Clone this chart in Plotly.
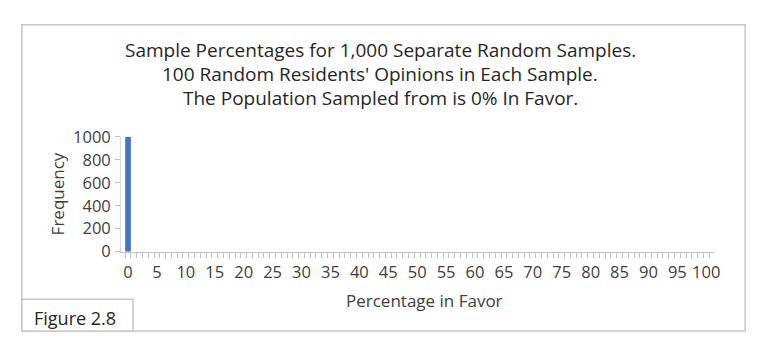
import plotly.graph_objects as go

# ---- data ----
percent_in_favor = list(range(0, 101))
frequency = [1000] + [0] * 100
x_tick_values = list(range(0, 101, 5))
x_tick_labels = [str(v) for v in x_tick_values]
y_tick_values = [0, 200, 400, 600, 800, 1000]
title_lines = [
    "Sample Percentages for 1,000 Separate Random Samples.",
    "100 Random Residents' Opinions in Each Sample.",
    "The Population Sampled from is 0% In Favor.",
]
x_title = "Percentage in Favor"
y_title = "Frequency"
figure_label = "Figure 2.8"

# page is offset by the default 8px body margin
OFF = 8
W, H = 760, 350
FONT = "Open Sans"
TXT = "#404040"
GRID = "#bfbfbf"


def px(x):
    return (x - OFF) / W


def py(y):
    return 1 - (y - OFF) / H


fig = go.Figure()
fig.add_trace(go.Bar(
    x=percent_in_favor, y=frequency, width=0.98,
    marker=dict(color="#4472C4", line=dict(width=0)),
    showlegend=False, hoverinfo="x+y",
))

fig.update_layout(
    width=W, height=H,
    margin=dict(l=0, r=0, t=0, b=0),
    paper_bgcolor="white", plot_bgcolor="white",
    font=dict(family=FONT, color=TXT, size=16),
    xaxis=dict(
        domain=[px(122), px(720)],
        range=[-1.2, 101.4],
        showgrid=False, zeroline=False,
        showline=True, linecolor=GRID, linewidth=1,
        tickmode="array", tickvals=x_tick_values, ticktext=x_tick_labels,
        ticks="", ticklabelstandoff=5,
        tickfont=dict(size=16.5, color=TXT, family=FONT),
        minor=dict(tickmode="linear", tick0=-0.5, dtick=1, ticks="outside",
                   ticklen=5, tickcolor=GRID, tickwidth=1, showgrid=False),
    ),
    yaxis=dict(
        domain=[py(256), py(133)],
        range=[0, 1000],
        showgrid=False, zeroline=False,
        showline=True, linecolor="#d9d9d9", linewidth=1,
        tickmode="array", tickvals=y_tick_values,
        ticks="outside", ticklen=5, tickcolor=GRID, ticklabelstandoff=1,
        tickfont=dict(size=16.5, color=TXT, family=FONT),
    ),
)

# outer frame
fig.add_shape(type="rect", xref="paper", yref="paper",
              x0=px(22), x1=px(751), y0=py(341), y1=py(13),
              line=dict(color="#c6c6c6", width=1.5), fillcolor="rgba(0,0,0,0)", layer="below")
# figure label box
fig.add_shape(type="rect", xref="paper", yref="paper",
              x0=px(22), x1=px(134), y0=py(341), y1=py(307),
              line=dict(color="#c6c6c6", width=1.5), fillcolor="white")

for i, line in enumerate(title_lines):
    fig.add_annotation(text=line, xref="paper", yref="paper",
                       x=px(383), y=py([40, 66, 92][i]), showarrow=False,
                       xanchor="center", yanchor="middle",
                       font=dict(size=19, color="#262626", family=FONT))

fig.add_annotation(text=y_title, xref="paper", yref="paper",
                   x=px(58), y=py(194), textangle=-90, showarrow=False,
                   xanchor="center", yanchor="middle",
                   font=dict(size=17, color=TXT, family=FONT))
fig.add_annotation(text=x_title, xref="paper", yref="paper",
                   x=px(428), y=py(308), showarrow=False,
                   xanchor="center", yanchor="middle",
                   font=dict(size=17, color=TXT, family=FONT))
fig.add_annotation(text=figure_label, xref="paper", yref="paper",
                   x=px(76), y=py(327), showarrow=False,
                   xanchor="center", yanchor="middle",
                   font=dict(size=18, color="#262626", family=FONT))

fig.write_html("out.html")
